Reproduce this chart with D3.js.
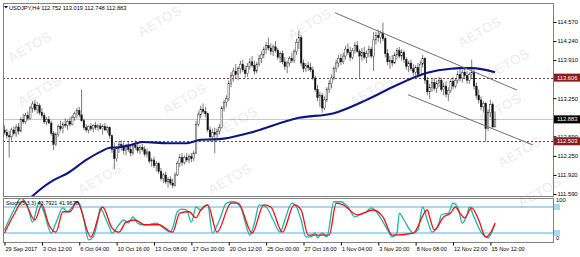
<!DOCTYPE html>
<html>
<head>
<meta charset="utf-8">
<script src="https://cdn.jsdelivr.net/npm/d3@7"></script>
<style>
  body { margin: 0; background: #fff; }
  svg { display: block; font-family: "Liberation Sans", Arial, sans-serif; }
</style>
</head>
<body>
<div id="chart"></div>
<script>
// USDJPY H4 candles, bar 0 = 29 Sep 2017 00:00
const opens = [112.70,112.66,112.60,112.58,112.70,112.64,112.75,112.68,112.88,112.84,112.95,
  112.90,113.08,113.15,113.05,113.12,113.00,112.95,112.84,112.88,112.82,
  112.64,112.45,112.62,112.76,112.72,112.80,112.78,112.85,112.80,112.92,
  112.98,113.04,112.96,112.86,112.74,112.70,112.76,112.72,112.78,112.74,
  112.77,112.72,112.76,112.70,112.74,112.60,112.36,112.20,112.38,112.45,
  112.40,112.34,112.42,112.36,112.30,112.44,112.40,112.34,112.40,112.36,
  112.28,112.32,112.16,112.18,112.08,112.12,111.98,111.86,111.92,111.80,
  111.84,111.78,111.74,111.92,112.12,112.22,112.14,112.22,112.18,112.24,
  112.20,112.30,112.80,112.96,113.06,113.02,112.98,112.70,112.58,112.66,
  112.62,112.68,112.74,113.08,113.18,113.24,113.50,113.64,113.72,113.66,
  113.76,113.84,113.74,113.68,113.80,113.88,113.82,113.72,113.84,113.94,
  114.00,114.10,114.16,114.12,114.06,114.14,114.08,113.96,114.02,113.88,
  113.80,113.86,113.94,113.90,114.06,114.22,114.30,113.86,113.76,113.82,
  113.78,113.74,113.60,113.40,113.26,113.30,113.08,113.22,113.40,113.50,
  113.60,113.76,113.86,113.94,113.88,113.98,114.10,114.04,113.96,114.08,
  114.16,114.06,113.98,114.04,113.96,114.02,114.10,113.98,114.26,114.34,
  114.30,114.38,114.28,114.02,113.88,113.90,113.86,114.00,114.08,113.98,
  114.04,113.92,113.80,113.86,113.76,113.70,113.78,113.66,113.84,113.94,
  113.56,113.36,113.44,113.52,113.42,113.50,113.56,113.40,113.46,113.32,
  113.38,113.54,113.46,113.56,113.66,113.60,113.70,113.64,113.56,113.66,
  113.70,113.46,113.30,113.22,113.10,113.16,112.72,113.00,113.14,112.752];
const highs = [112.78,112.72,112.68,112.74,112.76,112.80,112.82,112.92,112.98,113.00,113.02,
  113.12,113.20,113.22,113.18,113.16,113.08,113.00,112.92,112.94,112.86,
  112.68,112.66,112.80,112.86,112.84,112.90,112.88,112.92,112.96,113.02,
  113.08,113.10,113.40,112.90,112.80,112.78,112.82,112.80,112.84,112.80,
  112.82,112.80,112.82,112.78,112.76,112.62,112.48,112.42,112.50,112.52,
  112.48,112.46,112.50,112.44,112.46,112.52,112.46,112.44,112.46,112.42,
  112.38,112.34,112.22,112.24,112.16,112.14,112.04,111.96,111.98,111.88,
  111.90,111.86,111.96,112.16,112.28,112.30,112.26,112.30,112.28,112.30,
  112.34,112.86,113.02,113.12,113.16,113.10,113.00,112.76,112.72,112.74,
  112.72,112.80,113.12,113.22,113.30,113.56,113.70,113.78,113.84,113.80,
  113.90,113.92,113.82,113.86,113.94,113.98,113.90,113.88,114.00,114.06,
  114.14,114.22,114.30,114.20,114.18,114.24,114.12,114.06,114.08,113.96,
  113.90,113.98,114.04,114.10,114.28,114.42,114.34,113.92,113.86,113.88,
  113.86,113.80,113.64,113.48,113.36,113.34,113.28,113.44,113.56,113.66,
  113.80,113.92,114.00,114.02,114.04,114.16,114.20,114.14,114.12,114.22,
  114.24,114.10,114.12,114.14,114.08,114.16,114.14,114.40,114.40,114.44,
  114.42,114.56,114.32,114.10,113.98,114.00,114.04,114.12,114.14,114.10,
  114.08,113.96,113.90,113.92,113.84,113.82,113.86,113.90,114.00,113.96,
  113.62,113.50,113.58,113.60,113.56,113.62,113.60,113.52,113.54,113.44,
  113.58,113.62,113.60,113.72,113.76,113.74,113.78,113.72,113.70,113.92,
  113.74,113.52,113.40,113.28,113.20,113.18,113.06,113.22,113.18,113.019];
const lows = [112.62,112.55,112.22,112.52,112.60,112.58,112.62,112.66,112.80,112.80,112.86,
  112.88,113.00,113.02,112.98,112.96,112.90,112.80,112.78,112.80,112.60,
  112.35,112.42,112.58,112.68,112.64,112.74,112.70,112.76,112.78,112.86,
  112.90,112.92,112.84,112.70,112.66,112.64,112.68,112.66,112.70,112.68,
  112.70,112.62,112.68,112.64,112.55,112.30,112.02,112.15,112.30,112.34,
  112.28,112.26,112.32,112.24,112.26,112.36,112.30,112.28,112.32,112.24,
  112.22,112.12,112.06,112.04,111.98,111.94,111.82,111.78,111.76,111.70,
  111.74,111.69,111.72,111.90,112.06,112.08,112.10,112.14,112.12,112.14,
  112.16,112.28,112.76,112.90,112.98,112.92,112.66,112.50,112.52,112.30,
  112.56,112.62,112.72,113.02,113.10,113.20,113.44,113.54,113.60,113.56,
  113.68,113.70,113.60,113.62,113.74,113.78,113.66,113.68,113.80,113.86,
  113.94,114.02,114.08,114.00,113.98,114.04,113.92,113.86,113.84,113.74,
  113.68,113.80,113.86,113.86,114.00,114.10,113.80,113.70,113.70,113.72,
  113.70,113.56,113.36,113.20,113.10,113.00,113.04,113.18,113.34,113.42,
  113.56,113.70,113.78,113.82,113.84,113.92,114.00,113.90,113.92,114.02,
  114.04,113.60,113.90,113.92,113.86,113.96,113.94,113.72,114.18,114.22,
  114.20,114.24,113.96,113.82,113.76,113.80,113.84,113.92,113.94,113.90,
  113.86,113.74,113.70,113.72,113.64,113.64,113.60,113.62,113.78,113.50,
  113.30,113.24,113.36,113.38,113.34,113.44,113.36,113.30,113.26,113.20,
  113.34,113.40,113.42,113.50,113.54,113.52,113.58,113.50,113.50,113.60,
  113.40,113.24,113.16,113.04,113.00,112.50,112.68,112.92,112.74,112.748];
const closes = [112.66,112.60,112.58,112.70,112.64,112.75,112.68,112.88,112.84,112.95,112.90,
  113.08,113.15,113.05,113.12,113.00,112.95,112.84,112.88,112.82,112.64,
  112.45,112.62,112.76,112.72,112.80,112.78,112.85,112.80,112.92,112.98,
  113.04,112.96,112.86,112.74,112.70,112.76,112.72,112.78,112.74,112.77,
  112.72,112.76,112.70,112.74,112.60,112.36,112.20,112.38,112.45,112.40,
  112.34,112.42,112.36,112.30,112.44,112.40,112.34,112.40,112.36,112.28,
  112.32,112.16,112.18,112.08,112.12,111.98,111.86,111.92,111.80,111.84,
  111.78,111.74,111.92,112.12,112.22,112.14,112.22,112.18,112.24,112.20,
  112.30,112.80,112.96,113.06,113.02,112.98,112.70,112.58,112.66,112.62,
  112.68,112.74,113.08,113.18,113.24,113.50,113.64,113.72,113.66,113.76,
  113.84,113.74,113.68,113.80,113.88,113.82,113.72,113.84,113.94,114.00,
  114.10,114.16,114.12,114.06,114.14,114.08,113.96,114.02,113.88,113.80,
  113.86,113.94,113.90,114.06,114.22,114.30,113.86,113.76,113.82,113.78,
  113.74,113.60,113.40,113.26,113.30,113.08,113.22,113.40,113.50,113.60,
  113.76,113.86,113.94,113.88,113.98,114.10,114.04,113.96,114.08,114.16,
  114.06,113.98,114.04,113.96,114.02,114.10,113.98,114.26,114.34,114.30,
  114.38,114.28,114.02,113.88,113.90,113.86,114.00,114.08,113.98,114.04,
  113.92,113.80,113.86,113.76,113.70,113.78,113.66,113.84,113.94,113.56,
  113.36,113.44,113.52,113.42,113.50,113.56,113.40,113.46,113.32,113.38,
  113.54,113.46,113.56,113.66,113.60,113.70,113.64,113.56,113.66,113.70,
  113.46,113.30,113.22,113.10,113.16,112.72,113.00,113.14,112.75,112.883];

// moving average (blue), read at bar positions
const maBars = [8,12,15,21,27,35,41,45,49,54,59,70,78,84,92,105,126,141,155,166,181,191,195,200,210];
const maVals = [111.40,111.555,111.66,111.83,111.95,112.18,112.32,112.39,112.40,112.44,112.49,112.47,112.47,112.53,112.54,112.65,112.91,112.99,113.22,113.44,113.69,113.76,113.77,113.77,113.70];

// Stochastic(5,3,3): main line (teal) and signal (red)
const kBars = [0,4,7,10,12,14,15,17,20,22,25,27,29,31,32,34,36,38,40,41,43,45,46,49,51,53,55,57,59,61,65,68,71,72,74,76,78,80,82,84,87,89,92,95,98,101,104,105,107,109,112,115,118,120,123,125,127,129,131,133,134,136,138,141,144,147,150,152,155,157,161,164,166,168,169,171,175,177,179,181,183,186,187,190,192,194,196,198,199,201,204,207,209,210];
const kVals = [27,73,100,80,45,80,92,66,20,43,78,69,80,92,89,50,4,11,50,78,57,32,20,39,50,43,57,43,39,39,43,32,22,32,69,75,73,45,80,73,85,20,50,89,92,80,27,15,43,85,80,50,22,50,89,80,50,11,11,20,9,20,11,92,92,80,57,62,69,78,55,27,11,20,66,50,20,27,80,50,22,43,62,66,89,80,43,62,80,57,22,9,27,43.79];
const dBars = [0,4,8,13,16,19,22,25,28,31,37,42,46,49,52,56,60,66,72,75,79,82,84,87,91,97,100,106,111,114,119,124,127,130,132,139,142,145,151,158,162,166,175,181,182,184,188,191,193,195,197,200,203,206,208,210];
const dVals = [20,62,94,50,85,39,22,69,69,92,11,80,32,22,45,50,39,39,22,66,69,55,73,85,22,89,89,20,85,80,22,85,73,15,15,15,89,85,62,73,57,15,20,73,57,27,57,66,80,66,55,78,50,11,20,41.97];

// axis labels
const priceTicks = [114.570,114.240,113.910,113.250,112.590,112.250,111.920,111.590];
const priceTickLabels = ["114.570","114.240","113.910","113.250","112.590","112.250","111.920","111.590"];
const dateTickBars = [0,16,32,48,64,80,96,112,128,144,160,176,192,208];
const dateLabels = ["29 Sep 2017","3 Oct 12:00","6 Oct 04:00","10 Oct 16:00","13 Oct 08:00","17 Oct 20:00","20 Oct 12:00","25 Oct 00:00","27 Oct 16:00","1 Nov 04:00","3 Nov 20:00","8 Nov 08:00","12 Nov 22:00","15 Nov 12:00"];

// horizontal levels and channel
const levelLines = [113.606, 112.503];
const bidPrice = 112.883;
const channelUpper = [[141.5,114.73],[219.4,113.39]];
const channelLower = [[172.7,113.31],[226.2,112.44]];
const stochLevels = [80, 20];

// watermark centres (pixels of the screenshot)
const marks = [[30,48],[160,22],[310,25],[480,33],[40,92],[185,100],[372,92],[508,65],[236,123],[500,110],[100,180],[230,180],[520,153],[540,193]];

const width = 580, height = 257;
const plot = { left: 3, right: 553, top: 3, bottom: 196 };
const osc = { top: 198, bottom: 242 };

const svg = d3.select("#chart").append("svg")
    .attr("width", width)
    .attr("height", height);

const x = d3.scaleLinear().domain([0, 210]).range([4.5, 4.5 + 210 * 2.336]);
const y = d3.scaleLinear().domain([111.590, 114.570]).range([194, 22]);
const ys = d3.scaleLinear().domain([0, 100]).range([241.7, 198.3]);

const defs = svg.append("defs");
defs.append("clipPath").attr("id", "clipMain")
  .append("rect").attr("x", plot.left).attr("y", plot.top)
  .attr("width", plot.right - plot.left).attr("height", plot.bottom - plot.top);
defs.append("clipPath").attr("id", "clipOsc")
  .append("rect").attr("x", plot.left).attr("y", osc.top)
  .attr("width", plot.right - plot.left).attr("height", osc.bottom - osc.top);

// main panel
const main = svg.append("g").attr("clip-path", "url(#clipMain)");

main.append("line")
    .attr("x1", plot.left).attr("x2", plot.right)
    .attr("y1", Math.round(y(bidPrice)) + 0.5).attr("y2", Math.round(y(bidPrice)) + 0.5)
    .attr("stroke", "#c8c8c8").attr("stroke-width", 1);

main.selectAll(".level").data(levelLines).enter().append("line")
    .attr("class", "level")
    .attr("x1", plot.left).attr("x2", plot.right)
    .attr("y1", d => Math.round(y(d)) + 0.5).attr("y2", d => Math.round(y(d)) + 0.5)
    .attr("stroke", "#7a3a3a").attr("stroke-width", 1)
    .attr("stroke-dasharray", "2,2");

const candles = d3.range(closes.length);

main.selectAll(".wick").data(candles).enter().append("line")
    .attr("class", "wick")
    .attr("x1", i => x(i)).attr("x2", i => x(i))
    .attr("y1", i => y(highs[i])).attr("y2", i => y(lows[i]))
    .attr("stroke", "#222").attr("stroke-width", 0.6);

main.selectAll(".body").data(candles).enter().append("rect")
    .attr("class", "body")
    .attr("x", i => x(i) - 0.8)
    .attr("width", 1.6)
    .attr("y", i => y(Math.max(opens[i], closes[i])))
    .attr("height", i => Math.max(0.5, Math.abs(y(opens[i]) - y(closes[i]))))
    .attr("fill", i => closes[i] >= opens[i] ? "#fff" : "#111")
    .attr("stroke", "#111").attr("stroke-width", 0.4);

main.append("path")
    .datum(d3.zip(maBars, maVals))
    .attr("fill", "none")
    .attr("stroke", "#0b1680")
    .attr("stroke-width", 2.1)
    .attr("d", d3.line().x(d => x(d[0])).y(d => y(d[1])).curve(d3.curveMonotoneX));

const trend = d3.line().x(d => x(d[0])).y(d => y(d[1]));
[channelUpper, channelLower].forEach(seg => {
  main.append("path").attr("d", trend(seg))
      .attr("fill", "none").attr("stroke", "#6e6e6e").attr("stroke-width", 1);
});

// stochastic panel
const stoch = svg.append("g").attr("clip-path", "url(#clipOsc)");
stoch.selectAll(".slevel").data(stochLevels).enter().append("line")
    .attr("x1", plot.left).attr("x2", plot.right)
    .attr("y1", d => ys(d)).attr("y2", d => ys(d))
    .attr("stroke", "#8ecbee").attr("stroke-width", 1.6);

const sline = d3.line().x(d => x(d[0])).y(d => ys(d[1])).curve(d3.curveMonotoneX);
stoch.append("path").datum(d3.zip(kBars, kVals))
    .attr("fill", "none").attr("stroke", "#20b2aa").attr("stroke-width", 1.3)
    .attr("d", sline);
stoch.append("path").datum(d3.zip(dBars, dVals))
    .attr("fill", "none").attr("stroke", "#ee1111").attr("stroke-width", 1.3)
    .attr("d", sline);

// watermarks
svg.append("g").selectAll("text").data(marks).enter().append("text")
    .attr("transform", d => `translate(${d[0]},${d[1]}) rotate(-30)`)
    .attr("text-anchor", "middle")
    .attr("dominant-baseline", "middle")
    .attr("font-size", 14)
    .attr("font-weight", "bold")
    .attr("fill", "#000")
    .attr("fill-opacity", 0.08)
    .text("AETOS");

// panel frames
svg.append("rect").attr("x", plot.left + 0.5).attr("y", plot.top + 0.5)
    .attr("width", plot.right - plot.left).attr("height", plot.bottom - plot.top)
    .attr("fill", "none").attr("stroke", "#808080");
svg.append("rect").attr("x", plot.left + 0.5).attr("y", osc.top + 0.5)
    .attr("width", plot.right - plot.left).attr("height", osc.bottom - osc.top)
    .attr("fill", "none").attr("stroke", "#808080");

// price axis
const yAxis = svg.append("g")
    .attr("transform", `translate(${plot.right + 0.5},0)`)
    .call(d3.axisRight(y).tickValues(priceTicks)
      .tickFormat((d, i) => priceTickLabels[i]).tickSize(3).tickPadding(1));
yAxis.select(".domain").remove();
yAxis.selectAll("text").attr("font-size", 5.8).attr("fill", "#000").attr("font-family", "Liberation Sans, Arial, sans-serif");

// price boxes
const boxes = [[113.606, "#8b1c1c"], [bidPrice, "#000"], [112.503, "#8b1c1c"]];
const boxG = svg.selectAll(".pbox").data(boxes).enter().append("g")
    .attr("transform", d => `translate(${plot.right + 1},${y(d[0])})`);
boxG.append("rect").attr("x", 0).attr("y", -4).attr("width", 26).attr("height", 8)
    .attr("fill", d => d[1]);
boxG.append("text").attr("x", 3).attr("y", 2.1)
    .attr("font-size", 5.8).attr("fill", "#fff")
    .text(d => d[0].toFixed(3));

// stochastic scale labels
svg.append("text").attr("x", plot.right + 3).attr("y", 202).attr("font-size", 5.8).text("100");
svg.append("text").attr("x", plot.right + 3).attr("y", 240).attr("font-size", 5.8).text("0");
svg.selectAll(".lbox").data(stochLevels).enter().append("rect")
    .attr("x", plot.right + 1).attr("y", d => ys(d) - 3).attr("width", 6).attr("height", 6)
    .attr("fill", "#a9d8f2");

// time axis
const xAxis = svg.append("g")
    .attr("transform", `translate(0,${osc.bottom + 0.5})`)
    .call(d3.axisBottom(x).tickValues(dateTickBars)
      .tickFormat((d, i) => dateLabels[i]).tickSize(3).tickPadding(2));
xAxis.select(".domain").remove();
xAxis.selectAll("text").attr("font-size", 5.6).attr("fill", "#000")
    .attr("text-anchor", "start").attr("dx", 0.5);

// titles
svg.append("path").attr("d", "M4,6 L8,6 L6,8.5 Z").attr("fill", "#000");
svg.append("text").attr("x", 9).attr("y", 10).attr("font-size", 5.7)
    .text("USDJPY,H4  112.752 113.019 112.748 112.883");
svg.append("text").attr("x", 6).attr("y", 205).attr("font-size", 5.5)
    .text("Stoch(5,3,3) 43.7921 41.9678");
</script>
</body>
</html>
